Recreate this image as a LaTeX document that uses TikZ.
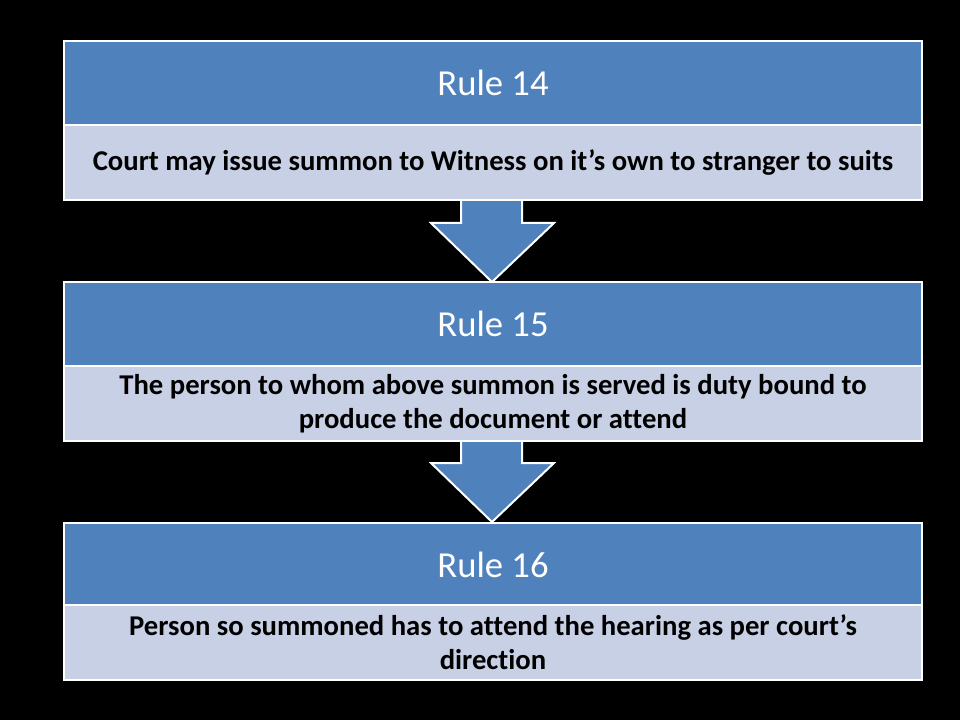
\documentclass[tikz,border=0pt]{standalone}
\usepackage{fontspec}
\setmainfont[Ligatures=CommonOff]{Carlito}
\definecolor{hdrblue}{RGB}{79,129,189}
\definecolor{bodyblue}{RGB}{199,208,229}
\begin{document}
\begin{tikzpicture}[x=0.75pt,y=-0.75pt]
\tikzset{
  hdr/.style={draw=white, line width=1.5pt, fill=hdrblue, minimum width=858*0.75pt, minimum height=84*0.75pt, inner sep=0pt, anchor=north west, text=white, font=\fontsize{27.5}{33}\selectfont},
  bdy/.style={draw=white, line width=1.5pt, fill=bodyblue, minimum width=858*0.75pt, minimum height=75*0.75pt, inner sep=0pt, anchor=north west, text=black, align=center, font=\bfseries\fontsize{21.5}{25.5}\selectfont},
  downarrow/.style={draw=white, line width=1.5pt, fill=hdrblue, line join=miter}
}
\fill[black] (0,0) rectangle (960,720);
\useasboundingbox (0,0) rectangle (960,720);
% arrows first (behind the blocks)
\draw[downarrow] (461,195) -- (461,223) -- (431,223) -- (492,282) -- (554,223) -- (522,223) -- (522,195) -- cycle;
\draw[downarrow] (461,436) -- (461,463) -- (431,463) -- (492,522) -- (554,463) -- (522,463) -- (522,436) -- cycle;
% block 1
\node[hdr] (h1) at (63,40) {Rule 14};
\node[bdy] (b1) at (63,124) {Court may issue summon to Witness on it’s own to stranger to suits};
% block 2
\node[hdr] (h2) at (63,281) {Rule 15};
\node[bdy] (b2) at (63,365) {The person to whom above summon is served is duty bound to\\produce the document or attend};
% block 3
\node[hdr] (h3) at (63,522) {Rule 16};
\node[bdy] (b3) at (63,604) {Person so summoned has to attend the hearing as per court’s\\direction};
\end{tikzpicture}
\end{document}
